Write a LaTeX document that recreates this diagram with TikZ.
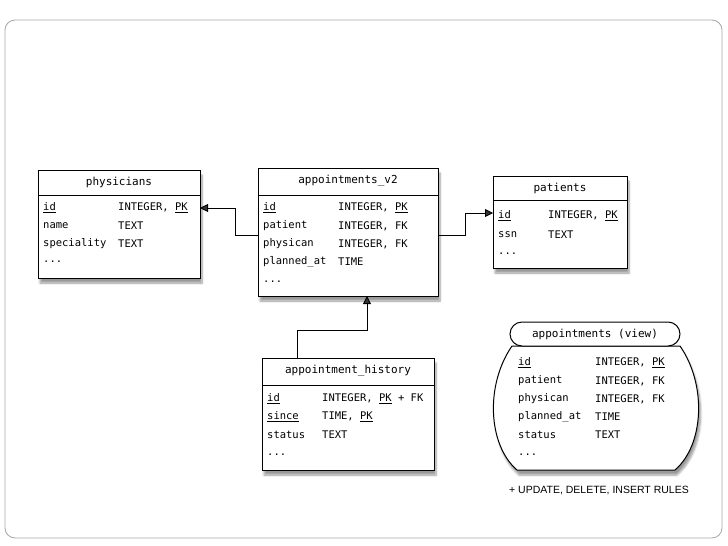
\documentclass[tikz,border=0pt]{standalone}
\usepackage{fontspec}
\setmonofont{DejaVu Sans Mono}
\setmainfont{Liberation Sans}
\usetikzlibrary{arrows.meta,shadows.blur}
\begin{document}
\begin{tikzpicture}[x=1pt,y=-1pt,
  tbl/.style={draw,line width=1pt,fill=white,blur shadow={shadow xshift=2pt,shadow yshift=-5pt,shadow blur steps=6}},
  ttl/.style={font=\ttfamily\fontsize{11}{12}\selectfont},
  row/.style={anchor=west,font=\ttfamily\fontsize{10.5}{12}\selectfont,inner sep=0pt},
  conn/.style={line width=0.9pt,-{Triangle[length=8pt,width=8pt]}}]
\useasboundingbox (0,0) rectangle (728,546);
\draw[gray!70,line width=0.8pt,rounded corners=10pt] (5,20) rectangle (722,538);
% physicians
\draw[tbl] (38,170) rectangle (200,278);
\draw[line width=1pt] (38,195) -- (200,195);
\node[ttl] (phyT) at (119,182) {physicians};
\coordinate (phyR) at (200,208);
\node[row] at (43,208) {\underline{id}};\node[row] at (118,208) {INTEGER, \underline{PK}};
\node[row] at (43,226) {name};\node[row] at (118,226) {TEXT};
\node[row] at (43,244) {speciality};\node[row] at (118,244) {TEXT};
\node[row] at (43,262) {...};
% appointments_v2
\draw[tbl] (258,168) rectangle (438,296);
\draw[line width=1pt] (258,195) -- (438,195);
\node[ttl] (apT) at (348,181) {appointments\_v2};
\coordinate (apL) at (258,235);\coordinate (apR) at (438,235);\coordinate (apB) at (367,296);
\node[row] at (263,208) {\underline{id}};\node[row] at (338,208) {INTEGER, \underline{PK}};
\node[row] at (263,226) {patient};\node[row] at (338,226) {INTEGER, FK};
\node[row] at (263,244) {physican};\node[row] at (338,244) {INTEGER, FK};
\node[row] at (263,262) {planned\_at};\node[row] at (338,262) {TIME};
\node[row] at (263,282) {...};
% patients
\draw[tbl] (493,176) rectangle (627,268);
\draw[line width=1pt] (493,200) -- (627,200);
\node[ttl] (paT) at (560,188) {patients};
\coordinate (paL) at (493,213);
\node[row] at (498,216) {\underline{id}};\node[row] at (548,216) {INTEGER, \underline{PK}};
\node[row] at (498,235) {ssn};\node[row] at (548,235) {TEXT};
\node[row] at (498,254) {...};
% appointment_history
\draw[tbl] (262,358) rectangle (434,470);
\draw[line width=1pt] (262,385) -- (434,385);
\node[ttl] (hT) at (348,371) {appointment\_history};
\coordinate (hTop) at (297,358);
\node[row] at (267,399) {\underline{id}};\node[row] at (322,399) {INTEGER, \underline{PK} + FK};
\node[row] at (267,417) {\underline{since}};\node[row] at (322,417) {TIME, \underline{PK}};
\node[row] at (267,435) {status};\node[row] at (322,435) {TEXT};
\node[row] at (267,455) {...};
% view
\draw[line width=1pt,fill=white,blur shadow={shadow xshift=2pt,shadow yshift=-5pt,shadow blur steps=6}]
  (512,346) .. controls (485,385) and (488,445) .. (517,470) -- (675,470) .. controls (704,445) and (707,385) .. (680,346) -- cycle;
\draw[line width=1pt,fill=white,rounded corners=12pt] (510,322) rectangle (680,346);
\node[ttl] (vT) at (595,334) {appointments (view)};
\node[row] at (518,363) {\underline{id}};\node[row] at (595,363) {INTEGER, \underline{PK}};
\node[row] at (518,381) {patient};\node[row] at (595,381) {INTEGER, FK};
\node[row] at (518,399) {physican};\node[row] at (595,399) {INTEGER, FK};
\node[row] at (518,417) {planned\_at};\node[row] at (595,417) {TIME};
\node[row] at (518,435) {status};\node[row] at (595,435) {TEXT};
\node[row] at (518,455) {...};
\node[font=\fontsize{10.5}{12}\selectfont] (rules) at (599,490) {+ UPDATE, DELETE, INSERT RULES};
% connectors
\draw[conn] (apL) -| (235,208) -- (phyR);
\draw[conn] (apR) -| (465,213) -- (paL);
\draw[conn] (hTop) |- (367,330) -- (apB);
\end{tikzpicture}
\end{document}
